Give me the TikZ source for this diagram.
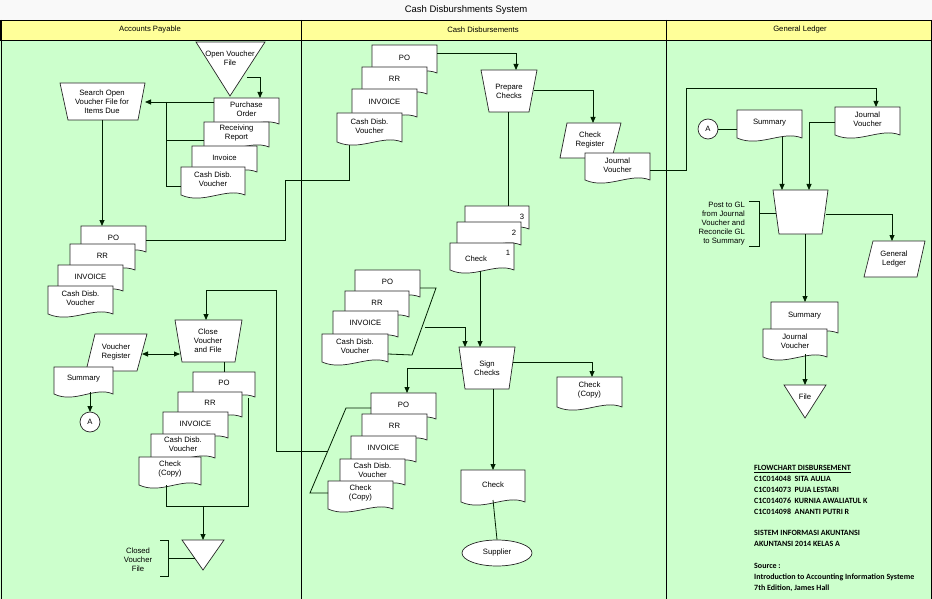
\documentclass[tikz,border=0pt]{standalone}
\usepackage{fontspec}
\setmainfont{Liberation Sans}
\newfontfamily\notefont{Carlito}
\usetikzlibrary{arrows.meta,shapes.geometric}
\definecolor{lane}{HTML}{CCFFCC}
\definecolor{head}{HTML}{FFFF99}
\tikzset{
 shp/.style={draw=black!85,fill=white,line width=0.7pt},
 ln/.style={draw=black!80!green!60!black,line width=0.8pt},
 arr/.style={ln,-{Triangle[length=6pt,width=5pt]}},
 txt/.style={font=\fontsize{7.7}{9}\selectfont,align=center,inner sep=0pt},
}
\newcommand\dk[6]{%
 \path[shp] (#2,{#5-3}) -- (#2,#3) -- (#4,#3) -- (#4,{#5-3}) .. controls ({#4-0.3*(#4-#2)},{#5-11}) and ({#2+0.35*(#4-#2)},{#5+7}) .. (#2,{#5-3}) -- cycle;
 \node[txt,minimum width={#4-#2},minimum height={#5-#3-6}] (#1) at ({(#2+#4)/2},{(#3+#5)/2-3}) {#6};}
\begin{document}
\begin{tikzpicture}[x=1pt,y=-1pt]
\useasboundingbox (0,0) rectangle (932,599);
\fill[lane] (0,20) rectangle (932,599);
\fill[white!95!gray] (0,0) rectangle (932,20);
\draw[line width=0.8pt,fill=head] (0,20) rectangle (932,40);
\draw[line width=0.9pt] (1,20) -- (1,599) (301,20) -- (301,599) (666,20) -- (666,599) (931,20)--(931,599);
\node[font=\fontsize{9.5}{11}\selectfont] (title) at (466,10) {Cash Disburshments System};
\node[txt] (h1) at (150,30) {Accounts Payable};
\node[txt] (h2) at (483,30) {Cash Disbursements};
\node[txt] (h3) at (800,30) {General Ledger};

% ---------- Accounts Payable ----------
\draw[shp] (196,42) -- (265,42) -- (230,96) -- cycle;
\node[txt] (ovf) at (230,58) {Open Voucher\\File};
\dk{apo}{214}{98}{279}{127}{Purchase\\Order}
\dk{arep}{204}{122}{269}{150}{Receiving\\Report}
\dk{ainv}{192}{146}{257}{175}{Invoice}
\dk{acdv}{181}{167}{245}{198}{Cash Disb.\\Voucher}
\draw[arr] (247,77) -- (260,77) -- (260,98);
\draw[shp] (60,83) -- (145,83) -- (138,120) -- (68,120) -- cycle;
\node[txt] (search) at (102,102) {Search Open\\Voucher File for\\Items Due};
\draw[arr] (214,102) -- (145,102);
\draw[ln] (166,102) -- (166,186) -- (181,186) (166,140) -- (204,140);
\draw[arr] (102,120) -- (102,226);
\dk{bpo}{81}{226}{146}{255}{PO}
\dk{brr}{70}{244}{135}{273}{RR}
\dk{binv}{58}{265}{123}{294}{INVOICE}
\dk{bcdv}{48}{286}{113}{317}{Cash Disb.\\Voucher}
\draw[ln] (146,240) -- (285,240) -- (285,180) -- (349,180) -- (349,142);

% lower AP
\draw[shp] (175,320) -- (242,320) -- (235,362) -- (182,362) -- cycle;
\node[txt] (close) at (208,341) {Close\\Voucher\\and File};
\draw[shp] (95,334) -- (147,334) -- (137,371) -- (86,371) -- cycle;
\node[txt] (vreg) at (116,352) {Voucher\\Register};
\dk{vsum}{54}{367}{113}{397}{Summary}
\draw[{Triangle[length=6pt,width=5pt]}-{Triangle[length=6pt,width=5pt]},ln] (142,354) -- (180,354);
\draw[shp] (90,422) circle (10);
\node[txt] (ca) at (90,422) {A};
\draw[arr] (90,392) -- (90,412);
\draw[ln] (224,362) -- (224,372);
\dk{cpo}{193}{372}{255}{400}{PO}
\dk{crr}{178}{392}{242}{420}{RR}
\dk{cinv}{163}{412}{228}{441}{INVOICE}
\dk{ccdv}{151}{434}{215}{461}{Cash Disb.\\Voucher}
\dk{cchk}{139}{457}{201}{488}{Check\\(Copy)}
\draw[ln] (248,398) -- (248,506) -- (166,506) -- (166,485);
\draw[arr] (203,506) -- (203,540);
\draw[shp] (182,540) -- (224,540) -- (203,570) -- cycle;
\draw[ln] (160,540) -- (168,540) -- (168,576) -- (160,576) (168,558) -- (195,558);
\node[txt] (cvf) at (138,560) {Closed\\Voucher\\File};

% ---------- Cash Disbursements ----------
\dk{dpo}{372}{45}{437}{76}{PO}
\dk{drr}{362}{67}{427}{97}{RR}
\dk{dinv}{352}{89}{417}{120}{INVOICE}
\dk{dcdv}{337}{113}{402}{145}{Cash Disb.\\Voucher}
\draw[shp] (481,70) -- (537,70) -- (529,112) -- (489,112) -- cycle;
\node[txt] (prep) at (509,91) {Prepare\\Checks};
\draw[arr] (437,53) -- (516,53) -- (516,70);
\draw[arr] (534,90) -- (593,90) -- (593,123);
\draw[shp] (567,123) -- (621,123) -- (612,158) -- (560,158) -- cycle;
\node[txt] (creg) at (590,140) {Check\\Register};
\dk{djv}{585}{153}{650}{183}{Journal\\Voucher}
\draw[arr] (650,170) -- (686,170) -- (686,88) -- (876,88) -- (876,107);
\draw[ln] (508,112) -- (508,206);
\dk{k3}{465}{206}{529}{232}{}
\dk{k2}{457}{222}{521}{248}{}
\dk{k1}{450}{243}{514}{273}{}
\node[txt] (n3) at (522,217) {3};
\node[txt] (n2) at (514,233) {2};
\node[txt] (n1) at (508,253) {1};
\node[txt] (chk1) at (476,259) {Check};
\draw[arr] (480,271) -- (480,347);
\dk{epo}{355}{270}{420}{300}{PO}
\dk{err}{345}{291}{409}{320}{RR}
\dk{einv}{333}{311}{398}{340}{INVOICE}
\dk{ecdv}{322}{334}{388}{365}{Cash Disb.\\Voucher}
\draw[ln] (420,288) -- (436,288) -- (412,355) -- (388,354);
\draw[arr] (425,327) -- (465,327) -- (465,347);
\draw[shp] (459,347) -- (515,347) -- (509,389) -- (465,389) -- cycle;
\node[txt] (sign) at (487,368) {Sign\\Checks};
\draw[arr] (462,368) -- (407,368) -- (407,393);
\dk{fpo}{371}{393}{436}{422}{PO}
\dk{frr}{362}{414}{427}{443}{RR}
\dk{finv}{351}{436}{416}{465}{INVOICE}
\dk{fcdv}{340}{459}{405}{488}{Cash Disb.\\Voucher}
\dk{fchk}{328}{481}{393}{512}{Check\\(Copy)}
\draw[ln] (371,408) -- (346,408) -- (310,493) -- (328,493);
\draw[ln] (328,451) -- (276,451) -- (276,290) -- (206,290);
\draw[arr] (206,290) -- (206,320);
\draw[arr] (513,362) -- (592,362) -- (592,377);
\dk{scc}{557}{377}{622}{410}{Check\\(Copy)}
\draw[arr] (493,389) -- (493,470);
\dk{schk}{461}{470}{525}{505}{Check}
\node[draw=black!85,fill=white,line width=0.7pt,ellipse,minimum width=70,minimum height=26,txt] (sup) at (497,553) {Supplier};
\draw[ln] (493,500) -- (sup.north);

% ---------- General Ledger ----------
\draw[shp] (708,129) circle (10);
\node[txt] (ga) at (708,129) {A};
\dk{gsum}{737}{110}{802}{141}{Summary}
\draw[ln] (718,129) -- (737,129);
\dk{gjv}{835}{107}{900}{138}{Journal\\Voucher}
\draw[arr] (782,137) -- (782,190);
\draw[arr] (835,122) -- (809,122) -- (809,190);
\draw[shp] (773,190) -- (828,190) -- (822,234) -- (779,234) -- cycle;
\draw[ln] (749,201) -- (759,201) -- (759,246) -- (749,246) (759,213) -- (776,213);
\node[txt,align=right,anchor=east] (postt) at (745,224) {Post to GL\\from Journal\\Voucher and\\Reconcile GL\\to Summary};
\draw[arr] (826,214) -- (892,214) -- (892,241);
\draw[shp] (873,241) -- (925,241) -- (917,277) -- (864,277) -- cycle;
\node[txt] (gl) at (894,259) {General\\Ledger};
\draw[arr] (805,234) -- (805,302);
\dk{hsum}{771}{302}{838}{336}{Summary}
\dk{hjv}{763}{329}{827}{360}{Journal\\Voucher}
\draw[arr] (805,354) -- (805,385);
\draw[shp] (784,385) -- (826,385) -- (805,418) -- cycle;
\node[txt] (gfile) at (805,397) {File};

% annotation
\node[anchor=north west,inner sep=0pt,align=left,font=\notefont\bfseries\fontsize{8}{10.9}\selectfont] (note) at (754,465) {\underline{FLOWCHART DISBURSEMENT}\\C1C014048\ \ SITA AULIA\\C1C014073\ \ PUJA LESTARI\\C1C014076\ \ KURNIA AWALIATUL K\\C1C014098\ \ ANANTI PUTRI R\\[10.9pt]SISTEM INFORMASI AKUNTANSI\\AKUNTANSI 2014 KELAS A\\[10.9pt]Source :\\Introduction to Accounting Information Systeme\\7th Edition, James Hall};
\end{tikzpicture}
\end{document}
